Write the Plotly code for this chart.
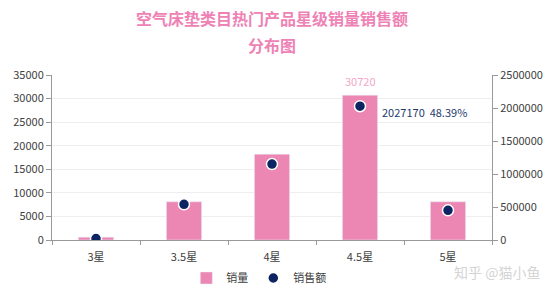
import plotly.graph_objects as go

categories = ["3星", "3.5星", "4星", "4.5星", "5星"]
sales_qty = [600, 8100, 18200, 30720, 8100]
sales_amt = [22000, 540000, 1150000, 2027170, 450000]
left_ticks = [0, 5000, 10000, 15000, 20000, 25000, 30000, 35000]
right_ticks = [0, 500000, 1000000, 1500000, 2000000, 2500000]

FONT = "Noto Sans CJK SC"
PINK = "#ec87b4"
NAVY = "#0c2461"
W, H = 554, 293
ML, MR, MT, MB = 52, 62, 75, 53
PH = H - MT - MB

def py(pix):
    # pixel y (from top) -> paper coordinate
    return (H - MB - pix) / PH

fig = go.Figure()
fig.add_trace(go.Bar(x=categories, y=sales_qty, name="销量", marker_color=PINK,
                     width=0.4, yaxis="y"))
fig.add_trace(go.Scatter(x=categories, y=sales_amt, name="销售额", mode="markers",
                         marker=dict(color=NAVY, size=11, line=dict(color="white", width=1.5)),
                         yaxis="y2"))

fig.add_annotation(x=categories[3], y=sales_qty[3], yref="y", text=str(sales_qty[3]),
                   showarrow=False, yanchor="bottom", yshift=4,
                   font=dict(family=FONT, size=11, color="#f2a6c8"))
fig.add_annotation(x=categories[3], y=sales_amt[3], yref="y2",
                   text=f"{sales_amt[3]}  {sales_amt[3]/sum(sales_amt)*100:.2f}%",
                   showarrow=False, xanchor="left", xshift=20, yshift=-6,
                   font=dict(family=FONT, size=11, color="#1f3a6e"))

fig.add_annotation(x=0.5, xref="paper", y=py(18), yref="paper", yanchor="middle",
                   text="<b>空气床垫类目热门产品星级销量销售额</b>",
                   showarrow=False, font=dict(family=FONT, size=16, color="#ee82b5"))
fig.add_annotation(x=0.5, xref="paper", y=py(45), yref="paper", yanchor="middle",
                   text="<b>分布图</b>",
                   showarrow=False, font=dict(family=FONT, size=16, color="#ee82b5"))
fig.add_annotation(x=(542 - ML) / (W - ML - MR), xref="paper", y=py(272), yref="paper",
                   text="知乎 @猫小鱼", showarrow=False, xanchor="right", yanchor="middle",
                   font=dict(family=FONT, size=14, color="#d4d4d4"))

fig.update_layout(
    width=W, height=H,
    margin=dict(l=ML, r=MR, t=MT, b=MB, autoexpand=False),
    paper_bgcolor="white", plot_bgcolor="white",
    font=dict(family=FONT, size=11, color="#404040"),
    showlegend=True,
    legend=dict(orientation="h", x=0.47, xanchor="center", yref="container",
                y=1 - 278 / H, yanchor="middle", tracegroupgap=0,
                font=dict(family=FONT, size=11, color="#404040"), itemwidth=30),
    xaxis=dict(type="category", showline=True, linecolor="#999", linewidth=1,
               ticks="outside", tickson="boundaries", ticklen=4, tickcolor="#999",
               ticklabelstandoff=7, showgrid=False),
    yaxis=dict(range=[0, 35000], tickvals=left_ticks, tickformat="d", showline=True,
               linecolor="#999", ticks="outside", ticklen=5, tickcolor="#999",
               showgrid=True, gridcolor="#eeeeee", zeroline=False),
    yaxis2=dict(range=[0, 2500000], tickvals=right_ticks, tickformat="d", overlaying="y",
                side="right", showline=True, linecolor="#999", ticks="outside",
                ticklen=5, tickcolor="#999", showgrid=False, zeroline=False),
)

fig.write_html("out.html")
